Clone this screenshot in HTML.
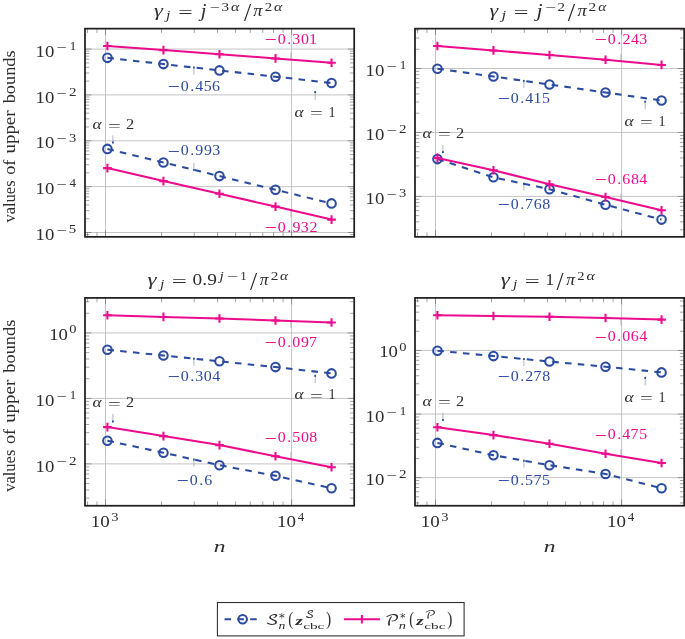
<!DOCTYPE html>
<html><head><meta charset="utf-8"><title>upper bounds</title>
<style>html,body{margin:0;padding:0;background:#fff}svg{display:block}text{font-family:'Liberation Serif','DejaVu Math TeX Gyre',serif;white-space:pre}</style>
</head><body>
<svg width="685" height="639" viewBox="0 0 685 639">
<rect width="685" height="639" fill="#fff"/>
<g id="panel1">
<line x1="105.50" y1="28.65" x2="105.50" y2="236.85" stroke="#bdbdc1" stroke-width="0.9"/>
<line x1="291.60" y1="28.65" x2="291.60" y2="236.85" stroke="#bdbdc1" stroke-width="0.9"/>
<line x1="85.00" y1="232.53" x2="354.20" y2="232.53" stroke="#bdbdc1" stroke-width="0.9"/>
<line x1="85.00" y1="186.66" x2="354.20" y2="186.66" stroke="#bdbdc1" stroke-width="0.9"/>
<line x1="85.00" y1="140.79" x2="354.20" y2="140.79" stroke="#bdbdc1" stroke-width="0.9"/>
<line x1="85.00" y1="94.92" x2="354.20" y2="94.92" stroke="#bdbdc1" stroke-width="0.9"/>
<line x1="85.00" y1="49.05" x2="354.20" y2="49.05" stroke="#bdbdc1" stroke-width="0.9"/>
<line x1="87.47" y1="28.65" x2="87.47" y2="32.95" stroke="#5a5a5a" stroke-width="0.55"/>
<line x1="87.47" y1="236.85" x2="87.47" y2="232.55" stroke="#5a5a5a" stroke-width="0.55"/>
<line x1="96.98" y1="28.65" x2="96.98" y2="32.95" stroke="#5a5a5a" stroke-width="0.55"/>
<line x1="96.98" y1="236.85" x2="96.98" y2="232.55" stroke="#5a5a5a" stroke-width="0.55"/>
<line x1="105.50" y1="28.65" x2="105.50" y2="35.05" stroke="#5a5a5a" stroke-width="0.55"/>
<line x1="105.50" y1="236.85" x2="105.50" y2="230.45" stroke="#5a5a5a" stroke-width="0.55"/>
<line x1="161.52" y1="28.65" x2="161.52" y2="32.95" stroke="#5a5a5a" stroke-width="0.55"/>
<line x1="161.52" y1="236.85" x2="161.52" y2="232.55" stroke="#5a5a5a" stroke-width="0.55"/>
<line x1="194.29" y1="28.65" x2="194.29" y2="32.95" stroke="#5a5a5a" stroke-width="0.55"/>
<line x1="194.29" y1="236.85" x2="194.29" y2="232.55" stroke="#5a5a5a" stroke-width="0.55"/>
<line x1="217.54" y1="28.65" x2="217.54" y2="32.95" stroke="#5a5a5a" stroke-width="0.55"/>
<line x1="217.54" y1="236.85" x2="217.54" y2="232.55" stroke="#5a5a5a" stroke-width="0.55"/>
<line x1="235.58" y1="28.65" x2="235.58" y2="32.95" stroke="#5a5a5a" stroke-width="0.55"/>
<line x1="235.58" y1="236.85" x2="235.58" y2="232.55" stroke="#5a5a5a" stroke-width="0.55"/>
<line x1="250.31" y1="28.65" x2="250.31" y2="32.95" stroke="#5a5a5a" stroke-width="0.55"/>
<line x1="250.31" y1="236.85" x2="250.31" y2="232.55" stroke="#5a5a5a" stroke-width="0.55"/>
<line x1="262.77" y1="28.65" x2="262.77" y2="32.95" stroke="#5a5a5a" stroke-width="0.55"/>
<line x1="262.77" y1="236.85" x2="262.77" y2="232.55" stroke="#5a5a5a" stroke-width="0.55"/>
<line x1="273.57" y1="28.65" x2="273.57" y2="32.95" stroke="#5a5a5a" stroke-width="0.55"/>
<line x1="273.57" y1="236.85" x2="273.57" y2="232.55" stroke="#5a5a5a" stroke-width="0.55"/>
<line x1="283.08" y1="28.65" x2="283.08" y2="32.95" stroke="#5a5a5a" stroke-width="0.55"/>
<line x1="283.08" y1="236.85" x2="283.08" y2="232.55" stroke="#5a5a5a" stroke-width="0.55"/>
<line x1="291.60" y1="28.65" x2="291.60" y2="35.05" stroke="#5a5a5a" stroke-width="0.55"/>
<line x1="291.60" y1="236.85" x2="291.60" y2="230.45" stroke="#5a5a5a" stroke-width="0.55"/>
<line x1="85.00" y1="234.63" x2="89.30" y2="234.63" stroke="#5a5a5a" stroke-width="0.55"/>
<line x1="354.20" y1="234.63" x2="349.90" y2="234.63" stroke="#5a5a5a" stroke-width="0.55"/>
<line x1="85.00" y1="232.53" x2="91.40" y2="232.53" stroke="#5a5a5a" stroke-width="0.55"/>
<line x1="354.20" y1="232.53" x2="347.80" y2="232.53" stroke="#5a5a5a" stroke-width="0.55"/>
<line x1="85.00" y1="218.72" x2="89.30" y2="218.72" stroke="#5a5a5a" stroke-width="0.55"/>
<line x1="354.20" y1="218.72" x2="349.90" y2="218.72" stroke="#5a5a5a" stroke-width="0.55"/>
<line x1="85.00" y1="210.64" x2="89.30" y2="210.64" stroke="#5a5a5a" stroke-width="0.55"/>
<line x1="354.20" y1="210.64" x2="349.90" y2="210.64" stroke="#5a5a5a" stroke-width="0.55"/>
<line x1="85.00" y1="204.91" x2="89.30" y2="204.91" stroke="#5a5a5a" stroke-width="0.55"/>
<line x1="354.20" y1="204.91" x2="349.90" y2="204.91" stroke="#5a5a5a" stroke-width="0.55"/>
<line x1="85.00" y1="200.47" x2="89.30" y2="200.47" stroke="#5a5a5a" stroke-width="0.55"/>
<line x1="354.20" y1="200.47" x2="349.90" y2="200.47" stroke="#5a5a5a" stroke-width="0.55"/>
<line x1="85.00" y1="196.84" x2="89.30" y2="196.84" stroke="#5a5a5a" stroke-width="0.55"/>
<line x1="354.20" y1="196.84" x2="349.90" y2="196.84" stroke="#5a5a5a" stroke-width="0.55"/>
<line x1="85.00" y1="193.77" x2="89.30" y2="193.77" stroke="#5a5a5a" stroke-width="0.55"/>
<line x1="354.20" y1="193.77" x2="349.90" y2="193.77" stroke="#5a5a5a" stroke-width="0.55"/>
<line x1="85.00" y1="191.11" x2="89.30" y2="191.11" stroke="#5a5a5a" stroke-width="0.55"/>
<line x1="354.20" y1="191.11" x2="349.90" y2="191.11" stroke="#5a5a5a" stroke-width="0.55"/>
<line x1="85.00" y1="188.76" x2="89.30" y2="188.76" stroke="#5a5a5a" stroke-width="0.55"/>
<line x1="354.20" y1="188.76" x2="349.90" y2="188.76" stroke="#5a5a5a" stroke-width="0.55"/>
<line x1="85.00" y1="186.66" x2="91.40" y2="186.66" stroke="#5a5a5a" stroke-width="0.55"/>
<line x1="354.20" y1="186.66" x2="347.80" y2="186.66" stroke="#5a5a5a" stroke-width="0.55"/>
<line x1="85.00" y1="172.85" x2="89.30" y2="172.85" stroke="#5a5a5a" stroke-width="0.55"/>
<line x1="354.20" y1="172.85" x2="349.90" y2="172.85" stroke="#5a5a5a" stroke-width="0.55"/>
<line x1="85.00" y1="164.77" x2="89.30" y2="164.77" stroke="#5a5a5a" stroke-width="0.55"/>
<line x1="354.20" y1="164.77" x2="349.90" y2="164.77" stroke="#5a5a5a" stroke-width="0.55"/>
<line x1="85.00" y1="159.04" x2="89.30" y2="159.04" stroke="#5a5a5a" stroke-width="0.55"/>
<line x1="354.20" y1="159.04" x2="349.90" y2="159.04" stroke="#5a5a5a" stroke-width="0.55"/>
<line x1="85.00" y1="154.60" x2="89.30" y2="154.60" stroke="#5a5a5a" stroke-width="0.55"/>
<line x1="354.20" y1="154.60" x2="349.90" y2="154.60" stroke="#5a5a5a" stroke-width="0.55"/>
<line x1="85.00" y1="150.97" x2="89.30" y2="150.97" stroke="#5a5a5a" stroke-width="0.55"/>
<line x1="354.20" y1="150.97" x2="349.90" y2="150.97" stroke="#5a5a5a" stroke-width="0.55"/>
<line x1="85.00" y1="147.90" x2="89.30" y2="147.90" stroke="#5a5a5a" stroke-width="0.55"/>
<line x1="354.20" y1="147.90" x2="349.90" y2="147.90" stroke="#5a5a5a" stroke-width="0.55"/>
<line x1="85.00" y1="145.24" x2="89.30" y2="145.24" stroke="#5a5a5a" stroke-width="0.55"/>
<line x1="354.20" y1="145.24" x2="349.90" y2="145.24" stroke="#5a5a5a" stroke-width="0.55"/>
<line x1="85.00" y1="142.89" x2="89.30" y2="142.89" stroke="#5a5a5a" stroke-width="0.55"/>
<line x1="354.20" y1="142.89" x2="349.90" y2="142.89" stroke="#5a5a5a" stroke-width="0.55"/>
<line x1="85.00" y1="140.79" x2="91.40" y2="140.79" stroke="#5a5a5a" stroke-width="0.55"/>
<line x1="354.20" y1="140.79" x2="347.80" y2="140.79" stroke="#5a5a5a" stroke-width="0.55"/>
<line x1="85.00" y1="126.98" x2="89.30" y2="126.98" stroke="#5a5a5a" stroke-width="0.55"/>
<line x1="354.20" y1="126.98" x2="349.90" y2="126.98" stroke="#5a5a5a" stroke-width="0.55"/>
<line x1="85.00" y1="118.90" x2="89.30" y2="118.90" stroke="#5a5a5a" stroke-width="0.55"/>
<line x1="354.20" y1="118.90" x2="349.90" y2="118.90" stroke="#5a5a5a" stroke-width="0.55"/>
<line x1="85.00" y1="113.17" x2="89.30" y2="113.17" stroke="#5a5a5a" stroke-width="0.55"/>
<line x1="354.20" y1="113.17" x2="349.90" y2="113.17" stroke="#5a5a5a" stroke-width="0.55"/>
<line x1="85.00" y1="108.73" x2="89.30" y2="108.73" stroke="#5a5a5a" stroke-width="0.55"/>
<line x1="354.20" y1="108.73" x2="349.90" y2="108.73" stroke="#5a5a5a" stroke-width="0.55"/>
<line x1="85.00" y1="105.10" x2="89.30" y2="105.10" stroke="#5a5a5a" stroke-width="0.55"/>
<line x1="354.20" y1="105.10" x2="349.90" y2="105.10" stroke="#5a5a5a" stroke-width="0.55"/>
<line x1="85.00" y1="102.03" x2="89.30" y2="102.03" stroke="#5a5a5a" stroke-width="0.55"/>
<line x1="354.20" y1="102.03" x2="349.90" y2="102.03" stroke="#5a5a5a" stroke-width="0.55"/>
<line x1="85.00" y1="99.37" x2="89.30" y2="99.37" stroke="#5a5a5a" stroke-width="0.55"/>
<line x1="354.20" y1="99.37" x2="349.90" y2="99.37" stroke="#5a5a5a" stroke-width="0.55"/>
<line x1="85.00" y1="97.02" x2="89.30" y2="97.02" stroke="#5a5a5a" stroke-width="0.55"/>
<line x1="354.20" y1="97.02" x2="349.90" y2="97.02" stroke="#5a5a5a" stroke-width="0.55"/>
<line x1="85.00" y1="94.92" x2="91.40" y2="94.92" stroke="#5a5a5a" stroke-width="0.55"/>
<line x1="354.20" y1="94.92" x2="347.80" y2="94.92" stroke="#5a5a5a" stroke-width="0.55"/>
<line x1="85.00" y1="81.11" x2="89.30" y2="81.11" stroke="#5a5a5a" stroke-width="0.55"/>
<line x1="354.20" y1="81.11" x2="349.90" y2="81.11" stroke="#5a5a5a" stroke-width="0.55"/>
<line x1="85.00" y1="73.03" x2="89.30" y2="73.03" stroke="#5a5a5a" stroke-width="0.55"/>
<line x1="354.20" y1="73.03" x2="349.90" y2="73.03" stroke="#5a5a5a" stroke-width="0.55"/>
<line x1="85.00" y1="67.30" x2="89.30" y2="67.30" stroke="#5a5a5a" stroke-width="0.55"/>
<line x1="354.20" y1="67.30" x2="349.90" y2="67.30" stroke="#5a5a5a" stroke-width="0.55"/>
<line x1="85.00" y1="62.86" x2="89.30" y2="62.86" stroke="#5a5a5a" stroke-width="0.55"/>
<line x1="354.20" y1="62.86" x2="349.90" y2="62.86" stroke="#5a5a5a" stroke-width="0.55"/>
<line x1="85.00" y1="59.23" x2="89.30" y2="59.23" stroke="#5a5a5a" stroke-width="0.55"/>
<line x1="354.20" y1="59.23" x2="349.90" y2="59.23" stroke="#5a5a5a" stroke-width="0.55"/>
<line x1="85.00" y1="56.16" x2="89.30" y2="56.16" stroke="#5a5a5a" stroke-width="0.55"/>
<line x1="354.20" y1="56.16" x2="349.90" y2="56.16" stroke="#5a5a5a" stroke-width="0.55"/>
<line x1="85.00" y1="53.50" x2="89.30" y2="53.50" stroke="#5a5a5a" stroke-width="0.55"/>
<line x1="354.20" y1="53.50" x2="349.90" y2="53.50" stroke="#5a5a5a" stroke-width="0.55"/>
<line x1="85.00" y1="51.15" x2="89.30" y2="51.15" stroke="#5a5a5a" stroke-width="0.55"/>
<line x1="354.20" y1="51.15" x2="349.90" y2="51.15" stroke="#5a5a5a" stroke-width="0.55"/>
<line x1="85.00" y1="49.05" x2="91.40" y2="49.05" stroke="#5a5a5a" stroke-width="0.55"/>
<line x1="354.20" y1="49.05" x2="347.80" y2="49.05" stroke="#5a5a5a" stroke-width="0.55"/>
<rect x="85.00" y="28.65" width="269.20" height="208.20" fill="none" stroke="#231f20" stroke-width="1.75"/>
<line x1="290.95" y1="59.58" x2="290.95" y2="52.58" stroke="#adadb3" stroke-width="0.9"/>
<line x1="193.90" y1="67.52" x2="193.90" y2="74.52" stroke="#adadb3" stroke-width="0.9"/>
<rect x="193.05" y="66.57" width="1.7" height="1.9" fill="#2a4ba0"/>
<line x1="193.90" y1="169.89" x2="193.90" y2="162.89" stroke="#adadb3" stroke-width="0.9"/>
<rect x="193.05" y="168.94" width="1.7" height="1.9" fill="#2a4ba0"/>
<line x1="290.95" y1="210.18" x2="290.95" y2="217.18" stroke="#adadb3" stroke-width="0.9"/>
<line x1="315.20" y1="92.10" x2="315.20" y2="99.80" stroke="#adadb3" stroke-width="0.9"/>
<rect x="314.30" y="91.10" width="1.8" height="2" fill="#2a4ba0"/>
<line x1="112.90" y1="135.30" x2="112.90" y2="142.50" stroke="#adadb3" stroke-width="0.9"/>
<rect x="112.00" y="141.50" width="1.8" height="2" fill="#2a4ba0"/>
<polyline points="107.42,57.85 163.45,64.10 219.48,70.40 275.51,76.70 331.54,83.00" fill="none" stroke="#2a4ba0" stroke-width="2.05" stroke-dasharray="6.55 6.27"/>
<circle cx="107.42" cy="57.85" r="4.27" fill="none" stroke="#2a4ba0" stroke-width="2.05"/>
<circle cx="163.45" cy="64.10" r="4.27" fill="none" stroke="#2a4ba0" stroke-width="2.05"/>
<circle cx="219.48" cy="70.40" r="4.27" fill="none" stroke="#2a4ba0" stroke-width="2.05"/>
<circle cx="275.51" cy="76.70" r="4.27" fill="none" stroke="#2a4ba0" stroke-width="2.05"/>
<circle cx="331.54" cy="83.00" r="4.27" fill="none" stroke="#2a4ba0" stroke-width="2.05"/>
<polyline points="107.42,46.00 163.45,50.10 219.48,54.20 275.51,58.40 331.54,62.70" fill="none" stroke="#ec0b8d" stroke-width="2.05"/>
<path d="M103.12 46.00H111.72M107.42 41.70V50.30" stroke="#ec0b8d" stroke-width="2.05" fill="none"/>
<path d="M159.15 50.10H167.75M163.45 45.80V54.40" stroke="#ec0b8d" stroke-width="2.05" fill="none"/>
<path d="M215.18 54.20H223.78M219.48 49.90V58.50" stroke="#ec0b8d" stroke-width="2.05" fill="none"/>
<path d="M271.21 58.40H279.81M275.51 54.10V62.70" stroke="#ec0b8d" stroke-width="2.05" fill="none"/>
<path d="M327.24 62.70H335.84M331.54 58.40V67.00" stroke="#ec0b8d" stroke-width="2.05" fill="none"/>
<polyline points="107.42,148.90 163.45,162.50 219.48,176.10 275.51,189.80 331.54,203.40" fill="none" stroke="#2a4ba0" stroke-width="2.05" stroke-dasharray="6.55 6.27"/>
<circle cx="107.42" cy="148.90" r="4.27" fill="none" stroke="#2a4ba0" stroke-width="2.05"/>
<circle cx="163.45" cy="162.50" r="4.27" fill="none" stroke="#2a4ba0" stroke-width="2.05"/>
<circle cx="219.48" cy="176.10" r="4.27" fill="none" stroke="#2a4ba0" stroke-width="2.05"/>
<circle cx="275.51" cy="189.80" r="4.27" fill="none" stroke="#2a4ba0" stroke-width="2.05"/>
<circle cx="331.54" cy="203.40" r="4.27" fill="none" stroke="#2a4ba0" stroke-width="2.05"/>
<polyline points="107.42,168.10 163.45,181.10 219.48,193.80 275.51,206.60 331.54,219.60" fill="none" stroke="#ec0b8d" stroke-width="2.05"/>
<path d="M103.12 168.10H111.72M107.42 163.80V172.40" stroke="#ec0b8d" stroke-width="2.05" fill="none"/>
<path d="M159.15 181.10H167.75M163.45 176.80V185.40" stroke="#ec0b8d" stroke-width="2.05" fill="none"/>
<path d="M215.18 193.80H223.78M219.48 189.50V198.10" stroke="#ec0b8d" stroke-width="2.05" fill="none"/>
<path d="M271.21 206.60H279.81M275.51 202.30V210.90" stroke="#ec0b8d" stroke-width="2.05" fill="none"/>
<path d="M327.24 219.60H335.84M331.54 215.30V223.90" stroke="#ec0b8d" stroke-width="2.05" fill="none"/>
</g>
<g id="panel2">
<line x1="435.50" y1="28.65" x2="435.50" y2="236.85" stroke="#bdbdc1" stroke-width="0.9"/>
<line x1="621.60" y1="28.65" x2="621.60" y2="236.85" stroke="#bdbdc1" stroke-width="0.9"/>
<line x1="415.00" y1="196.40" x2="684.20" y2="196.40" stroke="#bdbdc1" stroke-width="0.9"/>
<line x1="415.00" y1="132.45" x2="684.20" y2="132.45" stroke="#bdbdc1" stroke-width="0.9"/>
<line x1="415.00" y1="68.50" x2="684.20" y2="68.50" stroke="#bdbdc1" stroke-width="0.9"/>
<line x1="417.47" y1="28.65" x2="417.47" y2="32.95" stroke="#5a5a5a" stroke-width="0.55"/>
<line x1="417.47" y1="236.85" x2="417.47" y2="232.55" stroke="#5a5a5a" stroke-width="0.55"/>
<line x1="426.98" y1="28.65" x2="426.98" y2="32.95" stroke="#5a5a5a" stroke-width="0.55"/>
<line x1="426.98" y1="236.85" x2="426.98" y2="232.55" stroke="#5a5a5a" stroke-width="0.55"/>
<line x1="435.50" y1="28.65" x2="435.50" y2="35.05" stroke="#5a5a5a" stroke-width="0.55"/>
<line x1="435.50" y1="236.85" x2="435.50" y2="230.45" stroke="#5a5a5a" stroke-width="0.55"/>
<line x1="491.52" y1="28.65" x2="491.52" y2="32.95" stroke="#5a5a5a" stroke-width="0.55"/>
<line x1="491.52" y1="236.85" x2="491.52" y2="232.55" stroke="#5a5a5a" stroke-width="0.55"/>
<line x1="524.29" y1="28.65" x2="524.29" y2="32.95" stroke="#5a5a5a" stroke-width="0.55"/>
<line x1="524.29" y1="236.85" x2="524.29" y2="232.55" stroke="#5a5a5a" stroke-width="0.55"/>
<line x1="547.54" y1="28.65" x2="547.54" y2="32.95" stroke="#5a5a5a" stroke-width="0.55"/>
<line x1="547.54" y1="236.85" x2="547.54" y2="232.55" stroke="#5a5a5a" stroke-width="0.55"/>
<line x1="565.58" y1="28.65" x2="565.58" y2="32.95" stroke="#5a5a5a" stroke-width="0.55"/>
<line x1="565.58" y1="236.85" x2="565.58" y2="232.55" stroke="#5a5a5a" stroke-width="0.55"/>
<line x1="580.31" y1="28.65" x2="580.31" y2="32.95" stroke="#5a5a5a" stroke-width="0.55"/>
<line x1="580.31" y1="236.85" x2="580.31" y2="232.55" stroke="#5a5a5a" stroke-width="0.55"/>
<line x1="592.77" y1="28.65" x2="592.77" y2="32.95" stroke="#5a5a5a" stroke-width="0.55"/>
<line x1="592.77" y1="236.85" x2="592.77" y2="232.55" stroke="#5a5a5a" stroke-width="0.55"/>
<line x1="603.57" y1="28.65" x2="603.57" y2="32.95" stroke="#5a5a5a" stroke-width="0.55"/>
<line x1="603.57" y1="236.85" x2="603.57" y2="232.55" stroke="#5a5a5a" stroke-width="0.55"/>
<line x1="613.08" y1="28.65" x2="613.08" y2="32.95" stroke="#5a5a5a" stroke-width="0.55"/>
<line x1="613.08" y1="236.85" x2="613.08" y2="232.55" stroke="#5a5a5a" stroke-width="0.55"/>
<line x1="621.60" y1="28.65" x2="621.60" y2="35.05" stroke="#5a5a5a" stroke-width="0.55"/>
<line x1="621.60" y1="236.85" x2="621.60" y2="230.45" stroke="#5a5a5a" stroke-width="0.55"/>
<line x1="415.00" y1="229.84" x2="419.30" y2="229.84" stroke="#5a5a5a" stroke-width="0.55"/>
<line x1="684.20" y1="229.84" x2="679.90" y2="229.84" stroke="#5a5a5a" stroke-width="0.55"/>
<line x1="415.00" y1="221.85" x2="419.30" y2="221.85" stroke="#5a5a5a" stroke-width="0.55"/>
<line x1="684.20" y1="221.85" x2="679.90" y2="221.85" stroke="#5a5a5a" stroke-width="0.55"/>
<line x1="415.00" y1="215.65" x2="419.30" y2="215.65" stroke="#5a5a5a" stroke-width="0.55"/>
<line x1="684.20" y1="215.65" x2="679.90" y2="215.65" stroke="#5a5a5a" stroke-width="0.55"/>
<line x1="415.00" y1="210.59" x2="419.30" y2="210.59" stroke="#5a5a5a" stroke-width="0.55"/>
<line x1="684.20" y1="210.59" x2="679.90" y2="210.59" stroke="#5a5a5a" stroke-width="0.55"/>
<line x1="415.00" y1="206.31" x2="419.30" y2="206.31" stroke="#5a5a5a" stroke-width="0.55"/>
<line x1="684.20" y1="206.31" x2="679.90" y2="206.31" stroke="#5a5a5a" stroke-width="0.55"/>
<line x1="415.00" y1="202.60" x2="419.30" y2="202.60" stroke="#5a5a5a" stroke-width="0.55"/>
<line x1="684.20" y1="202.60" x2="679.90" y2="202.60" stroke="#5a5a5a" stroke-width="0.55"/>
<line x1="415.00" y1="199.33" x2="419.30" y2="199.33" stroke="#5a5a5a" stroke-width="0.55"/>
<line x1="684.20" y1="199.33" x2="679.90" y2="199.33" stroke="#5a5a5a" stroke-width="0.55"/>
<line x1="415.00" y1="196.40" x2="421.40" y2="196.40" stroke="#5a5a5a" stroke-width="0.55"/>
<line x1="684.20" y1="196.40" x2="677.80" y2="196.40" stroke="#5a5a5a" stroke-width="0.55"/>
<line x1="415.00" y1="177.15" x2="419.30" y2="177.15" stroke="#5a5a5a" stroke-width="0.55"/>
<line x1="684.20" y1="177.15" x2="679.90" y2="177.15" stroke="#5a5a5a" stroke-width="0.55"/>
<line x1="415.00" y1="165.89" x2="419.30" y2="165.89" stroke="#5a5a5a" stroke-width="0.55"/>
<line x1="684.20" y1="165.89" x2="679.90" y2="165.89" stroke="#5a5a5a" stroke-width="0.55"/>
<line x1="415.00" y1="157.90" x2="419.30" y2="157.90" stroke="#5a5a5a" stroke-width="0.55"/>
<line x1="684.20" y1="157.90" x2="679.90" y2="157.90" stroke="#5a5a5a" stroke-width="0.55"/>
<line x1="415.00" y1="151.70" x2="419.30" y2="151.70" stroke="#5a5a5a" stroke-width="0.55"/>
<line x1="684.20" y1="151.70" x2="679.90" y2="151.70" stroke="#5a5a5a" stroke-width="0.55"/>
<line x1="415.00" y1="146.64" x2="419.30" y2="146.64" stroke="#5a5a5a" stroke-width="0.55"/>
<line x1="684.20" y1="146.64" x2="679.90" y2="146.64" stroke="#5a5a5a" stroke-width="0.55"/>
<line x1="415.00" y1="142.36" x2="419.30" y2="142.36" stroke="#5a5a5a" stroke-width="0.55"/>
<line x1="684.20" y1="142.36" x2="679.90" y2="142.36" stroke="#5a5a5a" stroke-width="0.55"/>
<line x1="415.00" y1="138.65" x2="419.30" y2="138.65" stroke="#5a5a5a" stroke-width="0.55"/>
<line x1="684.20" y1="138.65" x2="679.90" y2="138.65" stroke="#5a5a5a" stroke-width="0.55"/>
<line x1="415.00" y1="135.38" x2="419.30" y2="135.38" stroke="#5a5a5a" stroke-width="0.55"/>
<line x1="684.20" y1="135.38" x2="679.90" y2="135.38" stroke="#5a5a5a" stroke-width="0.55"/>
<line x1="415.00" y1="132.45" x2="421.40" y2="132.45" stroke="#5a5a5a" stroke-width="0.55"/>
<line x1="684.20" y1="132.45" x2="677.80" y2="132.45" stroke="#5a5a5a" stroke-width="0.55"/>
<line x1="415.00" y1="113.20" x2="419.30" y2="113.20" stroke="#5a5a5a" stroke-width="0.55"/>
<line x1="684.20" y1="113.20" x2="679.90" y2="113.20" stroke="#5a5a5a" stroke-width="0.55"/>
<line x1="415.00" y1="101.94" x2="419.30" y2="101.94" stroke="#5a5a5a" stroke-width="0.55"/>
<line x1="684.20" y1="101.94" x2="679.90" y2="101.94" stroke="#5a5a5a" stroke-width="0.55"/>
<line x1="415.00" y1="93.95" x2="419.30" y2="93.95" stroke="#5a5a5a" stroke-width="0.55"/>
<line x1="684.20" y1="93.95" x2="679.90" y2="93.95" stroke="#5a5a5a" stroke-width="0.55"/>
<line x1="415.00" y1="87.75" x2="419.30" y2="87.75" stroke="#5a5a5a" stroke-width="0.55"/>
<line x1="684.20" y1="87.75" x2="679.90" y2="87.75" stroke="#5a5a5a" stroke-width="0.55"/>
<line x1="415.00" y1="82.69" x2="419.30" y2="82.69" stroke="#5a5a5a" stroke-width="0.55"/>
<line x1="684.20" y1="82.69" x2="679.90" y2="82.69" stroke="#5a5a5a" stroke-width="0.55"/>
<line x1="415.00" y1="78.41" x2="419.30" y2="78.41" stroke="#5a5a5a" stroke-width="0.55"/>
<line x1="684.20" y1="78.41" x2="679.90" y2="78.41" stroke="#5a5a5a" stroke-width="0.55"/>
<line x1="415.00" y1="74.70" x2="419.30" y2="74.70" stroke="#5a5a5a" stroke-width="0.55"/>
<line x1="684.20" y1="74.70" x2="679.90" y2="74.70" stroke="#5a5a5a" stroke-width="0.55"/>
<line x1="415.00" y1="71.43" x2="419.30" y2="71.43" stroke="#5a5a5a" stroke-width="0.55"/>
<line x1="684.20" y1="71.43" x2="679.90" y2="71.43" stroke="#5a5a5a" stroke-width="0.55"/>
<line x1="415.00" y1="68.50" x2="421.40" y2="68.50" stroke="#5a5a5a" stroke-width="0.55"/>
<line x1="684.20" y1="68.50" x2="677.80" y2="68.50" stroke="#5a5a5a" stroke-width="0.55"/>
<line x1="415.00" y1="49.25" x2="419.30" y2="49.25" stroke="#5a5a5a" stroke-width="0.55"/>
<line x1="684.20" y1="49.25" x2="679.90" y2="49.25" stroke="#5a5a5a" stroke-width="0.55"/>
<line x1="415.00" y1="37.99" x2="419.30" y2="37.99" stroke="#5a5a5a" stroke-width="0.55"/>
<line x1="684.20" y1="37.99" x2="679.90" y2="37.99" stroke="#5a5a5a" stroke-width="0.55"/>
<line x1="415.00" y1="30.00" x2="419.30" y2="30.00" stroke="#5a5a5a" stroke-width="0.55"/>
<line x1="684.20" y1="30.00" x2="679.90" y2="30.00" stroke="#5a5a5a" stroke-width="0.55"/>
<rect x="415.00" y="28.65" width="269.20" height="208.20" fill="none" stroke="#231f20" stroke-width="1.75"/>
<line x1="620.95" y1="61.21" x2="620.95" y2="54.21" stroke="#adadb3" stroke-width="0.9"/>
<line x1="523.90" y1="80.85" x2="523.90" y2="87.85" stroke="#adadb3" stroke-width="0.9"/>
<rect x="523.05" y="79.90" width="1.7" height="1.9" fill="#2a4ba0"/>
<line x1="620.95" y1="200.64" x2="620.95" y2="193.64" stroke="#adadb3" stroke-width="0.9"/>
<line x1="523.90" y1="183.77" x2="523.90" y2="190.77" stroke="#adadb3" stroke-width="0.9"/>
<rect x="523.05" y="182.82" width="1.7" height="1.9" fill="#2a4ba0"/>
<line x1="645.20" y1="101.70" x2="645.20" y2="109.30" stroke="#adadb3" stroke-width="0.9"/>
<rect x="644.30" y="100.70" width="1.8" height="2" fill="#2a4ba0"/>
<line x1="442.90" y1="145.00" x2="442.90" y2="152.10" stroke="#adadb3" stroke-width="0.9"/>
<rect x="442.00" y="151.10" width="1.8" height="2" fill="#2a4ba0"/>
<polyline points="437.42,68.70 493.45,76.50 549.48,84.50 605.51,92.50 661.54,100.50" fill="none" stroke="#2a4ba0" stroke-width="2.05" stroke-dasharray="6.55 6.27"/>
<circle cx="437.42" cy="68.70" r="4.27" fill="none" stroke="#2a4ba0" stroke-width="2.05"/>
<circle cx="493.45" cy="76.50" r="4.27" fill="none" stroke="#2a4ba0" stroke-width="2.05"/>
<circle cx="549.48" cy="84.50" r="4.27" fill="none" stroke="#2a4ba0" stroke-width="2.05"/>
<circle cx="605.51" cy="92.50" r="4.27" fill="none" stroke="#2a4ba0" stroke-width="2.05"/>
<circle cx="661.54" cy="100.50" r="4.27" fill="none" stroke="#2a4ba0" stroke-width="2.05"/>
<polyline points="437.42,46.00 493.45,50.40 549.48,55.05 605.51,59.80 661.54,64.90" fill="none" stroke="#ec0b8d" stroke-width="2.05"/>
<path d="M433.12 46.00H441.72M437.42 41.70V50.30" stroke="#ec0b8d" stroke-width="2.05" fill="none"/>
<path d="M489.15 50.40H497.75M493.45 46.10V54.70" stroke="#ec0b8d" stroke-width="2.05" fill="none"/>
<path d="M545.18 55.05H553.78M549.48 50.75V59.35" stroke="#ec0b8d" stroke-width="2.05" fill="none"/>
<path d="M601.21 59.80H609.81M605.51 55.50V64.10" stroke="#ec0b8d" stroke-width="2.05" fill="none"/>
<path d="M657.24 64.90H665.84M661.54 60.60V69.20" stroke="#ec0b8d" stroke-width="2.05" fill="none"/>
<polyline points="437.42,159.10 493.45,177.30 549.48,189.20 605.51,204.80 661.54,219.60" fill="none" stroke="#2a4ba0" stroke-width="2.05" stroke-dasharray="6.55 6.27"/>
<circle cx="437.42" cy="159.10" r="4.27" fill="none" stroke="#2a4ba0" stroke-width="2.05"/>
<circle cx="493.45" cy="177.30" r="4.27" fill="none" stroke="#2a4ba0" stroke-width="2.05"/>
<circle cx="549.48" cy="189.20" r="4.27" fill="none" stroke="#2a4ba0" stroke-width="2.05"/>
<circle cx="605.51" cy="204.80" r="4.27" fill="none" stroke="#2a4ba0" stroke-width="2.05"/>
<circle cx="661.54" cy="219.60" r="4.27" fill="none" stroke="#2a4ba0" stroke-width="2.05"/>
<polyline points="437.42,157.90 493.45,170.20 549.48,184.20 605.51,197.00 661.54,210.20" fill="none" stroke="#ec0b8d" stroke-width="2.05"/>
<path d="M433.12 157.90H441.72M437.42 153.60V162.20" stroke="#ec0b8d" stroke-width="2.05" fill="none"/>
<path d="M489.15 170.20H497.75M493.45 165.90V174.50" stroke="#ec0b8d" stroke-width="2.05" fill="none"/>
<path d="M545.18 184.20H553.78M549.48 179.90V188.50" stroke="#ec0b8d" stroke-width="2.05" fill="none"/>
<path d="M601.21 197.00H609.81M605.51 192.70V201.30" stroke="#ec0b8d" stroke-width="2.05" fill="none"/>
<path d="M657.24 210.20H665.84M661.54 205.90V214.50" stroke="#ec0b8d" stroke-width="2.05" fill="none"/>
</g>
<g id="panel3">
<line x1="105.50" y1="297.90" x2="105.50" y2="505.75" stroke="#bdbdc1" stroke-width="0.9"/>
<line x1="291.60" y1="297.90" x2="291.60" y2="505.75" stroke="#bdbdc1" stroke-width="0.9"/>
<line x1="85.00" y1="463.89" x2="354.20" y2="463.89" stroke="#bdbdc1" stroke-width="0.9"/>
<line x1="85.00" y1="398.42" x2="354.20" y2="398.42" stroke="#bdbdc1" stroke-width="0.9"/>
<line x1="85.00" y1="332.95" x2="354.20" y2="332.95" stroke="#bdbdc1" stroke-width="0.9"/>
<line x1="87.47" y1="297.90" x2="87.47" y2="302.20" stroke="#5a5a5a" stroke-width="0.55"/>
<line x1="87.47" y1="505.75" x2="87.47" y2="501.45" stroke="#5a5a5a" stroke-width="0.55"/>
<line x1="96.98" y1="297.90" x2="96.98" y2="302.20" stroke="#5a5a5a" stroke-width="0.55"/>
<line x1="96.98" y1="505.75" x2="96.98" y2="501.45" stroke="#5a5a5a" stroke-width="0.55"/>
<line x1="105.50" y1="297.90" x2="105.50" y2="304.30" stroke="#5a5a5a" stroke-width="0.55"/>
<line x1="105.50" y1="505.75" x2="105.50" y2="499.35" stroke="#5a5a5a" stroke-width="0.55"/>
<line x1="161.52" y1="297.90" x2="161.52" y2="302.20" stroke="#5a5a5a" stroke-width="0.55"/>
<line x1="161.52" y1="505.75" x2="161.52" y2="501.45" stroke="#5a5a5a" stroke-width="0.55"/>
<line x1="194.29" y1="297.90" x2="194.29" y2="302.20" stroke="#5a5a5a" stroke-width="0.55"/>
<line x1="194.29" y1="505.75" x2="194.29" y2="501.45" stroke="#5a5a5a" stroke-width="0.55"/>
<line x1="217.54" y1="297.90" x2="217.54" y2="302.20" stroke="#5a5a5a" stroke-width="0.55"/>
<line x1="217.54" y1="505.75" x2="217.54" y2="501.45" stroke="#5a5a5a" stroke-width="0.55"/>
<line x1="235.58" y1="297.90" x2="235.58" y2="302.20" stroke="#5a5a5a" stroke-width="0.55"/>
<line x1="235.58" y1="505.75" x2="235.58" y2="501.45" stroke="#5a5a5a" stroke-width="0.55"/>
<line x1="250.31" y1="297.90" x2="250.31" y2="302.20" stroke="#5a5a5a" stroke-width="0.55"/>
<line x1="250.31" y1="505.75" x2="250.31" y2="501.45" stroke="#5a5a5a" stroke-width="0.55"/>
<line x1="262.77" y1="297.90" x2="262.77" y2="302.20" stroke="#5a5a5a" stroke-width="0.55"/>
<line x1="262.77" y1="505.75" x2="262.77" y2="501.45" stroke="#5a5a5a" stroke-width="0.55"/>
<line x1="273.57" y1="297.90" x2="273.57" y2="302.20" stroke="#5a5a5a" stroke-width="0.55"/>
<line x1="273.57" y1="505.75" x2="273.57" y2="501.45" stroke="#5a5a5a" stroke-width="0.55"/>
<line x1="283.08" y1="297.90" x2="283.08" y2="302.20" stroke="#5a5a5a" stroke-width="0.55"/>
<line x1="283.08" y1="505.75" x2="283.08" y2="501.45" stroke="#5a5a5a" stroke-width="0.55"/>
<line x1="291.60" y1="297.90" x2="291.60" y2="304.30" stroke="#5a5a5a" stroke-width="0.55"/>
<line x1="291.60" y1="505.75" x2="291.60" y2="499.35" stroke="#5a5a5a" stroke-width="0.55"/>
<line x1="85.00" y1="498.12" x2="89.30" y2="498.12" stroke="#5a5a5a" stroke-width="0.55"/>
<line x1="354.20" y1="498.12" x2="349.90" y2="498.12" stroke="#5a5a5a" stroke-width="0.55"/>
<line x1="85.00" y1="489.94" x2="89.30" y2="489.94" stroke="#5a5a5a" stroke-width="0.55"/>
<line x1="354.20" y1="489.94" x2="349.90" y2="489.94" stroke="#5a5a5a" stroke-width="0.55"/>
<line x1="85.00" y1="483.60" x2="89.30" y2="483.60" stroke="#5a5a5a" stroke-width="0.55"/>
<line x1="354.20" y1="483.60" x2="349.90" y2="483.60" stroke="#5a5a5a" stroke-width="0.55"/>
<line x1="85.00" y1="478.41" x2="89.30" y2="478.41" stroke="#5a5a5a" stroke-width="0.55"/>
<line x1="354.20" y1="478.41" x2="349.90" y2="478.41" stroke="#5a5a5a" stroke-width="0.55"/>
<line x1="85.00" y1="474.03" x2="89.30" y2="474.03" stroke="#5a5a5a" stroke-width="0.55"/>
<line x1="354.20" y1="474.03" x2="349.90" y2="474.03" stroke="#5a5a5a" stroke-width="0.55"/>
<line x1="85.00" y1="470.23" x2="89.30" y2="470.23" stroke="#5a5a5a" stroke-width="0.55"/>
<line x1="354.20" y1="470.23" x2="349.90" y2="470.23" stroke="#5a5a5a" stroke-width="0.55"/>
<line x1="85.00" y1="466.89" x2="89.30" y2="466.89" stroke="#5a5a5a" stroke-width="0.55"/>
<line x1="354.20" y1="466.89" x2="349.90" y2="466.89" stroke="#5a5a5a" stroke-width="0.55"/>
<line x1="85.00" y1="463.89" x2="91.40" y2="463.89" stroke="#5a5a5a" stroke-width="0.55"/>
<line x1="354.20" y1="463.89" x2="347.80" y2="463.89" stroke="#5a5a5a" stroke-width="0.55"/>
<line x1="85.00" y1="444.18" x2="89.30" y2="444.18" stroke="#5a5a5a" stroke-width="0.55"/>
<line x1="354.20" y1="444.18" x2="349.90" y2="444.18" stroke="#5a5a5a" stroke-width="0.55"/>
<line x1="85.00" y1="432.65" x2="89.30" y2="432.65" stroke="#5a5a5a" stroke-width="0.55"/>
<line x1="354.20" y1="432.65" x2="349.90" y2="432.65" stroke="#5a5a5a" stroke-width="0.55"/>
<line x1="85.00" y1="424.47" x2="89.30" y2="424.47" stroke="#5a5a5a" stroke-width="0.55"/>
<line x1="354.20" y1="424.47" x2="349.90" y2="424.47" stroke="#5a5a5a" stroke-width="0.55"/>
<line x1="85.00" y1="418.13" x2="89.30" y2="418.13" stroke="#5a5a5a" stroke-width="0.55"/>
<line x1="354.20" y1="418.13" x2="349.90" y2="418.13" stroke="#5a5a5a" stroke-width="0.55"/>
<line x1="85.00" y1="412.94" x2="89.30" y2="412.94" stroke="#5a5a5a" stroke-width="0.55"/>
<line x1="354.20" y1="412.94" x2="349.90" y2="412.94" stroke="#5a5a5a" stroke-width="0.55"/>
<line x1="85.00" y1="408.56" x2="89.30" y2="408.56" stroke="#5a5a5a" stroke-width="0.55"/>
<line x1="354.20" y1="408.56" x2="349.90" y2="408.56" stroke="#5a5a5a" stroke-width="0.55"/>
<line x1="85.00" y1="404.76" x2="89.30" y2="404.76" stroke="#5a5a5a" stroke-width="0.55"/>
<line x1="354.20" y1="404.76" x2="349.90" y2="404.76" stroke="#5a5a5a" stroke-width="0.55"/>
<line x1="85.00" y1="401.42" x2="89.30" y2="401.42" stroke="#5a5a5a" stroke-width="0.55"/>
<line x1="354.20" y1="401.42" x2="349.90" y2="401.42" stroke="#5a5a5a" stroke-width="0.55"/>
<line x1="85.00" y1="398.42" x2="91.40" y2="398.42" stroke="#5a5a5a" stroke-width="0.55"/>
<line x1="354.20" y1="398.42" x2="347.80" y2="398.42" stroke="#5a5a5a" stroke-width="0.55"/>
<line x1="85.00" y1="378.71" x2="89.30" y2="378.71" stroke="#5a5a5a" stroke-width="0.55"/>
<line x1="354.20" y1="378.71" x2="349.90" y2="378.71" stroke="#5a5a5a" stroke-width="0.55"/>
<line x1="85.00" y1="367.18" x2="89.30" y2="367.18" stroke="#5a5a5a" stroke-width="0.55"/>
<line x1="354.20" y1="367.18" x2="349.90" y2="367.18" stroke="#5a5a5a" stroke-width="0.55"/>
<line x1="85.00" y1="359.00" x2="89.30" y2="359.00" stroke="#5a5a5a" stroke-width="0.55"/>
<line x1="354.20" y1="359.00" x2="349.90" y2="359.00" stroke="#5a5a5a" stroke-width="0.55"/>
<line x1="85.00" y1="352.66" x2="89.30" y2="352.66" stroke="#5a5a5a" stroke-width="0.55"/>
<line x1="354.20" y1="352.66" x2="349.90" y2="352.66" stroke="#5a5a5a" stroke-width="0.55"/>
<line x1="85.00" y1="347.47" x2="89.30" y2="347.47" stroke="#5a5a5a" stroke-width="0.55"/>
<line x1="354.20" y1="347.47" x2="349.90" y2="347.47" stroke="#5a5a5a" stroke-width="0.55"/>
<line x1="85.00" y1="343.09" x2="89.30" y2="343.09" stroke="#5a5a5a" stroke-width="0.55"/>
<line x1="354.20" y1="343.09" x2="349.90" y2="343.09" stroke="#5a5a5a" stroke-width="0.55"/>
<line x1="85.00" y1="339.29" x2="89.30" y2="339.29" stroke="#5a5a5a" stroke-width="0.55"/>
<line x1="354.20" y1="339.29" x2="349.90" y2="339.29" stroke="#5a5a5a" stroke-width="0.55"/>
<line x1="85.00" y1="335.95" x2="89.30" y2="335.95" stroke="#5a5a5a" stroke-width="0.55"/>
<line x1="354.20" y1="335.95" x2="349.90" y2="335.95" stroke="#5a5a5a" stroke-width="0.55"/>
<line x1="85.00" y1="332.95" x2="91.40" y2="332.95" stroke="#5a5a5a" stroke-width="0.55"/>
<line x1="354.20" y1="332.95" x2="347.80" y2="332.95" stroke="#5a5a5a" stroke-width="0.55"/>
<line x1="85.00" y1="313.24" x2="89.30" y2="313.24" stroke="#5a5a5a" stroke-width="0.55"/>
<line x1="354.20" y1="313.24" x2="349.90" y2="313.24" stroke="#5a5a5a" stroke-width="0.55"/>
<line x1="85.00" y1="301.71" x2="89.30" y2="301.71" stroke="#5a5a5a" stroke-width="0.55"/>
<line x1="354.20" y1="301.71" x2="349.90" y2="301.71" stroke="#5a5a5a" stroke-width="0.55"/>
<rect x="85.00" y="297.90" width="269.20" height="207.85" fill="none" stroke="#231f20" stroke-width="1.75"/>
<line x1="290.95" y1="321.05" x2="290.95" y2="328.05" stroke="#adadb3" stroke-width="0.9"/>
<line x1="193.90" y1="358.65" x2="193.90" y2="365.65" stroke="#adadb3" stroke-width="0.9"/>
<rect x="193.05" y="357.70" width="1.7" height="1.9" fill="#2a4ba0"/>
<line x1="290.95" y1="459.23" x2="290.95" y2="452.23" stroke="#adadb3" stroke-width="0.9"/>
<line x1="193.90" y1="459.49" x2="193.90" y2="466.49" stroke="#adadb3" stroke-width="0.9"/>
<rect x="193.05" y="458.54" width="1.7" height="1.9" fill="#2a4ba0"/>
<line x1="315.20" y1="375.80" x2="315.20" y2="382.90" stroke="#adadb3" stroke-width="0.9"/>
<rect x="314.30" y="374.80" width="1.8" height="2" fill="#2a4ba0"/>
<line x1="112.90" y1="413.80" x2="112.90" y2="421.50" stroke="#adadb3" stroke-width="0.9"/>
<rect x="112.00" y="420.50" width="1.8" height="2" fill="#2a4ba0"/>
<polyline points="107.42,349.70 163.45,355.50 219.48,361.30 275.51,367.10 331.54,373.40" fill="none" stroke="#2a4ba0" stroke-width="2.05" stroke-dasharray="6.55 6.27"/>
<circle cx="107.42" cy="349.70" r="4.27" fill="none" stroke="#2a4ba0" stroke-width="2.05"/>
<circle cx="163.45" cy="355.50" r="4.27" fill="none" stroke="#2a4ba0" stroke-width="2.05"/>
<circle cx="219.48" cy="361.30" r="4.27" fill="none" stroke="#2a4ba0" stroke-width="2.05"/>
<circle cx="275.51" cy="367.10" r="4.27" fill="none" stroke="#2a4ba0" stroke-width="2.05"/>
<circle cx="331.54" cy="373.40" r="4.27" fill="none" stroke="#2a4ba0" stroke-width="2.05"/>
<polyline points="107.42,315.20 163.45,316.90 219.48,318.50 275.51,320.50 331.54,322.50" fill="none" stroke="#ec0b8d" stroke-width="2.05"/>
<path d="M103.12 315.20H111.72M107.42 310.90V319.50" stroke="#ec0b8d" stroke-width="2.05" fill="none"/>
<path d="M159.15 316.90H167.75M163.45 312.60V321.20" stroke="#ec0b8d" stroke-width="2.05" fill="none"/>
<path d="M215.18 318.50H223.78M219.48 314.20V322.80" stroke="#ec0b8d" stroke-width="2.05" fill="none"/>
<path d="M271.21 320.50H279.81M275.51 316.20V324.80" stroke="#ec0b8d" stroke-width="2.05" fill="none"/>
<path d="M327.24 322.50H335.84M331.54 318.20V326.80" stroke="#ec0b8d" stroke-width="2.05" fill="none"/>
<polyline points="107.42,440.70 163.45,452.70 219.48,465.20 275.51,475.80 331.54,488.20" fill="none" stroke="#2a4ba0" stroke-width="2.05" stroke-dasharray="6.55 6.27"/>
<circle cx="107.42" cy="440.70" r="4.27" fill="none" stroke="#2a4ba0" stroke-width="2.05"/>
<circle cx="163.45" cy="452.70" r="4.27" fill="none" stroke="#2a4ba0" stroke-width="2.05"/>
<circle cx="219.48" cy="465.20" r="4.27" fill="none" stroke="#2a4ba0" stroke-width="2.05"/>
<circle cx="275.51" cy="475.80" r="4.27" fill="none" stroke="#2a4ba0" stroke-width="2.05"/>
<circle cx="331.54" cy="488.20" r="4.27" fill="none" stroke="#2a4ba0" stroke-width="2.05"/>
<polyline points="107.42,427.10 163.45,436.10 219.48,445.10 275.51,456.20 331.54,467.20" fill="none" stroke="#ec0b8d" stroke-width="2.05"/>
<path d="M103.12 427.10H111.72M107.42 422.80V431.40" stroke="#ec0b8d" stroke-width="2.05" fill="none"/>
<path d="M159.15 436.10H167.75M163.45 431.80V440.40" stroke="#ec0b8d" stroke-width="2.05" fill="none"/>
<path d="M215.18 445.10H223.78M219.48 440.80V449.40" stroke="#ec0b8d" stroke-width="2.05" fill="none"/>
<path d="M271.21 456.20H279.81M275.51 451.90V460.50" stroke="#ec0b8d" stroke-width="2.05" fill="none"/>
<path d="M327.24 467.20H335.84M331.54 462.90V471.50" stroke="#ec0b8d" stroke-width="2.05" fill="none"/>
</g>
<g id="panel4">
<line x1="435.50" y1="297.90" x2="435.50" y2="505.75" stroke="#bdbdc1" stroke-width="0.9"/>
<line x1="621.60" y1="297.90" x2="621.60" y2="505.75" stroke="#bdbdc1" stroke-width="0.9"/>
<line x1="415.00" y1="477.65" x2="684.20" y2="477.65" stroke="#bdbdc1" stroke-width="0.9"/>
<line x1="415.00" y1="414.05" x2="684.20" y2="414.05" stroke="#bdbdc1" stroke-width="0.9"/>
<line x1="415.00" y1="350.45" x2="684.20" y2="350.45" stroke="#bdbdc1" stroke-width="0.9"/>
<line x1="417.47" y1="297.90" x2="417.47" y2="302.20" stroke="#5a5a5a" stroke-width="0.55"/>
<line x1="417.47" y1="505.75" x2="417.47" y2="501.45" stroke="#5a5a5a" stroke-width="0.55"/>
<line x1="426.98" y1="297.90" x2="426.98" y2="302.20" stroke="#5a5a5a" stroke-width="0.55"/>
<line x1="426.98" y1="505.75" x2="426.98" y2="501.45" stroke="#5a5a5a" stroke-width="0.55"/>
<line x1="435.50" y1="297.90" x2="435.50" y2="304.30" stroke="#5a5a5a" stroke-width="0.55"/>
<line x1="435.50" y1="505.75" x2="435.50" y2="499.35" stroke="#5a5a5a" stroke-width="0.55"/>
<line x1="491.52" y1="297.90" x2="491.52" y2="302.20" stroke="#5a5a5a" stroke-width="0.55"/>
<line x1="491.52" y1="505.75" x2="491.52" y2="501.45" stroke="#5a5a5a" stroke-width="0.55"/>
<line x1="524.29" y1="297.90" x2="524.29" y2="302.20" stroke="#5a5a5a" stroke-width="0.55"/>
<line x1="524.29" y1="505.75" x2="524.29" y2="501.45" stroke="#5a5a5a" stroke-width="0.55"/>
<line x1="547.54" y1="297.90" x2="547.54" y2="302.20" stroke="#5a5a5a" stroke-width="0.55"/>
<line x1="547.54" y1="505.75" x2="547.54" y2="501.45" stroke="#5a5a5a" stroke-width="0.55"/>
<line x1="565.58" y1="297.90" x2="565.58" y2="302.20" stroke="#5a5a5a" stroke-width="0.55"/>
<line x1="565.58" y1="505.75" x2="565.58" y2="501.45" stroke="#5a5a5a" stroke-width="0.55"/>
<line x1="580.31" y1="297.90" x2="580.31" y2="302.20" stroke="#5a5a5a" stroke-width="0.55"/>
<line x1="580.31" y1="505.75" x2="580.31" y2="501.45" stroke="#5a5a5a" stroke-width="0.55"/>
<line x1="592.77" y1="297.90" x2="592.77" y2="302.20" stroke="#5a5a5a" stroke-width="0.55"/>
<line x1="592.77" y1="505.75" x2="592.77" y2="501.45" stroke="#5a5a5a" stroke-width="0.55"/>
<line x1="603.57" y1="297.90" x2="603.57" y2="302.20" stroke="#5a5a5a" stroke-width="0.55"/>
<line x1="603.57" y1="505.75" x2="603.57" y2="501.45" stroke="#5a5a5a" stroke-width="0.55"/>
<line x1="613.08" y1="297.90" x2="613.08" y2="302.20" stroke="#5a5a5a" stroke-width="0.55"/>
<line x1="613.08" y1="505.75" x2="613.08" y2="501.45" stroke="#5a5a5a" stroke-width="0.55"/>
<line x1="621.60" y1="297.90" x2="621.60" y2="304.30" stroke="#5a5a5a" stroke-width="0.55"/>
<line x1="621.60" y1="505.75" x2="621.60" y2="499.35" stroke="#5a5a5a" stroke-width="0.55"/>
<line x1="415.00" y1="502.96" x2="419.30" y2="502.96" stroke="#5a5a5a" stroke-width="0.55"/>
<line x1="684.20" y1="502.96" x2="679.90" y2="502.96" stroke="#5a5a5a" stroke-width="0.55"/>
<line x1="415.00" y1="496.80" x2="419.30" y2="496.80" stroke="#5a5a5a" stroke-width="0.55"/>
<line x1="684.20" y1="496.80" x2="679.90" y2="496.80" stroke="#5a5a5a" stroke-width="0.55"/>
<line x1="415.00" y1="491.76" x2="419.30" y2="491.76" stroke="#5a5a5a" stroke-width="0.55"/>
<line x1="684.20" y1="491.76" x2="679.90" y2="491.76" stroke="#5a5a5a" stroke-width="0.55"/>
<line x1="415.00" y1="487.50" x2="419.30" y2="487.50" stroke="#5a5a5a" stroke-width="0.55"/>
<line x1="684.20" y1="487.50" x2="679.90" y2="487.50" stroke="#5a5a5a" stroke-width="0.55"/>
<line x1="415.00" y1="483.81" x2="419.30" y2="483.81" stroke="#5a5a5a" stroke-width="0.55"/>
<line x1="684.20" y1="483.81" x2="679.90" y2="483.81" stroke="#5a5a5a" stroke-width="0.55"/>
<line x1="415.00" y1="480.56" x2="419.30" y2="480.56" stroke="#5a5a5a" stroke-width="0.55"/>
<line x1="684.20" y1="480.56" x2="679.90" y2="480.56" stroke="#5a5a5a" stroke-width="0.55"/>
<line x1="415.00" y1="477.65" x2="421.40" y2="477.65" stroke="#5a5a5a" stroke-width="0.55"/>
<line x1="684.20" y1="477.65" x2="677.80" y2="477.65" stroke="#5a5a5a" stroke-width="0.55"/>
<line x1="415.00" y1="458.50" x2="419.30" y2="458.50" stroke="#5a5a5a" stroke-width="0.55"/>
<line x1="684.20" y1="458.50" x2="679.90" y2="458.50" stroke="#5a5a5a" stroke-width="0.55"/>
<line x1="415.00" y1="447.31" x2="419.30" y2="447.31" stroke="#5a5a5a" stroke-width="0.55"/>
<line x1="684.20" y1="447.31" x2="679.90" y2="447.31" stroke="#5a5a5a" stroke-width="0.55"/>
<line x1="415.00" y1="439.36" x2="419.30" y2="439.36" stroke="#5a5a5a" stroke-width="0.55"/>
<line x1="684.20" y1="439.36" x2="679.90" y2="439.36" stroke="#5a5a5a" stroke-width="0.55"/>
<line x1="415.00" y1="433.20" x2="419.30" y2="433.20" stroke="#5a5a5a" stroke-width="0.55"/>
<line x1="684.20" y1="433.20" x2="679.90" y2="433.20" stroke="#5a5a5a" stroke-width="0.55"/>
<line x1="415.00" y1="428.16" x2="419.30" y2="428.16" stroke="#5a5a5a" stroke-width="0.55"/>
<line x1="684.20" y1="428.16" x2="679.90" y2="428.16" stroke="#5a5a5a" stroke-width="0.55"/>
<line x1="415.00" y1="423.90" x2="419.30" y2="423.90" stroke="#5a5a5a" stroke-width="0.55"/>
<line x1="684.20" y1="423.90" x2="679.90" y2="423.90" stroke="#5a5a5a" stroke-width="0.55"/>
<line x1="415.00" y1="420.21" x2="419.30" y2="420.21" stroke="#5a5a5a" stroke-width="0.55"/>
<line x1="684.20" y1="420.21" x2="679.90" y2="420.21" stroke="#5a5a5a" stroke-width="0.55"/>
<line x1="415.00" y1="416.96" x2="419.30" y2="416.96" stroke="#5a5a5a" stroke-width="0.55"/>
<line x1="684.20" y1="416.96" x2="679.90" y2="416.96" stroke="#5a5a5a" stroke-width="0.55"/>
<line x1="415.00" y1="414.05" x2="421.40" y2="414.05" stroke="#5a5a5a" stroke-width="0.55"/>
<line x1="684.20" y1="414.05" x2="677.80" y2="414.05" stroke="#5a5a5a" stroke-width="0.55"/>
<line x1="415.00" y1="394.90" x2="419.30" y2="394.90" stroke="#5a5a5a" stroke-width="0.55"/>
<line x1="684.20" y1="394.90" x2="679.90" y2="394.90" stroke="#5a5a5a" stroke-width="0.55"/>
<line x1="415.00" y1="383.71" x2="419.30" y2="383.71" stroke="#5a5a5a" stroke-width="0.55"/>
<line x1="684.20" y1="383.71" x2="679.90" y2="383.71" stroke="#5a5a5a" stroke-width="0.55"/>
<line x1="415.00" y1="375.76" x2="419.30" y2="375.76" stroke="#5a5a5a" stroke-width="0.55"/>
<line x1="684.20" y1="375.76" x2="679.90" y2="375.76" stroke="#5a5a5a" stroke-width="0.55"/>
<line x1="415.00" y1="369.60" x2="419.30" y2="369.60" stroke="#5a5a5a" stroke-width="0.55"/>
<line x1="684.20" y1="369.60" x2="679.90" y2="369.60" stroke="#5a5a5a" stroke-width="0.55"/>
<line x1="415.00" y1="364.56" x2="419.30" y2="364.56" stroke="#5a5a5a" stroke-width="0.55"/>
<line x1="684.20" y1="364.56" x2="679.90" y2="364.56" stroke="#5a5a5a" stroke-width="0.55"/>
<line x1="415.00" y1="360.30" x2="419.30" y2="360.30" stroke="#5a5a5a" stroke-width="0.55"/>
<line x1="684.20" y1="360.30" x2="679.90" y2="360.30" stroke="#5a5a5a" stroke-width="0.55"/>
<line x1="415.00" y1="356.61" x2="419.30" y2="356.61" stroke="#5a5a5a" stroke-width="0.55"/>
<line x1="684.20" y1="356.61" x2="679.90" y2="356.61" stroke="#5a5a5a" stroke-width="0.55"/>
<line x1="415.00" y1="353.36" x2="419.30" y2="353.36" stroke="#5a5a5a" stroke-width="0.55"/>
<line x1="684.20" y1="353.36" x2="679.90" y2="353.36" stroke="#5a5a5a" stroke-width="0.55"/>
<line x1="415.00" y1="350.45" x2="421.40" y2="350.45" stroke="#5a5a5a" stroke-width="0.55"/>
<line x1="684.20" y1="350.45" x2="677.80" y2="350.45" stroke="#5a5a5a" stroke-width="0.55"/>
<line x1="415.00" y1="331.30" x2="419.30" y2="331.30" stroke="#5a5a5a" stroke-width="0.55"/>
<line x1="684.20" y1="331.30" x2="679.90" y2="331.30" stroke="#5a5a5a" stroke-width="0.55"/>
<line x1="415.00" y1="320.11" x2="419.30" y2="320.11" stroke="#5a5a5a" stroke-width="0.55"/>
<line x1="684.20" y1="320.11" x2="679.90" y2="320.11" stroke="#5a5a5a" stroke-width="0.55"/>
<line x1="415.00" y1="312.16" x2="419.30" y2="312.16" stroke="#5a5a5a" stroke-width="0.55"/>
<line x1="684.20" y1="312.16" x2="679.90" y2="312.16" stroke="#5a5a5a" stroke-width="0.55"/>
<line x1="415.00" y1="306.00" x2="419.30" y2="306.00" stroke="#5a5a5a" stroke-width="0.55"/>
<line x1="684.20" y1="306.00" x2="679.90" y2="306.00" stroke="#5a5a5a" stroke-width="0.55"/>
<line x1="415.00" y1="300.96" x2="419.30" y2="300.96" stroke="#5a5a5a" stroke-width="0.55"/>
<line x1="684.20" y1="300.96" x2="679.90" y2="300.96" stroke="#5a5a5a" stroke-width="0.55"/>
<rect x="415.00" y="297.90" width="269.20" height="207.85" fill="none" stroke="#231f20" stroke-width="1.75"/>
<line x1="620.95" y1="318.44" x2="620.95" y2="325.44" stroke="#adadb3" stroke-width="0.9"/>
<line x1="523.90" y1="359.03" x2="523.90" y2="366.03" stroke="#adadb3" stroke-width="0.9"/>
<rect x="523.05" y="358.08" width="1.7" height="1.9" fill="#2a4ba0"/>
<line x1="620.95" y1="456.26" x2="620.95" y2="449.26" stroke="#adadb3" stroke-width="0.9"/>
<line x1="523.90" y1="460.63" x2="523.90" y2="467.63" stroke="#adadb3" stroke-width="0.9"/>
<rect x="523.05" y="459.68" width="1.7" height="1.9" fill="#2a4ba0"/>
<line x1="645.20" y1="377.80" x2="645.20" y2="385.30" stroke="#adadb3" stroke-width="0.9"/>
<rect x="644.30" y="376.80" width="1.8" height="2" fill="#2a4ba0"/>
<line x1="442.90" y1="412.90" x2="442.90" y2="420.10" stroke="#adadb3" stroke-width="0.9"/>
<rect x="442.00" y="419.10" width="1.8" height="2" fill="#2a4ba0"/>
<polyline points="437.42,350.70 493.45,356.10 549.48,361.50 605.51,366.70 661.54,372.40" fill="none" stroke="#2a4ba0" stroke-width="2.05" stroke-dasharray="6.55 6.27"/>
<circle cx="437.42" cy="350.70" r="4.27" fill="none" stroke="#2a4ba0" stroke-width="2.05"/>
<circle cx="493.45" cy="356.10" r="4.27" fill="none" stroke="#2a4ba0" stroke-width="2.05"/>
<circle cx="549.48" cy="361.50" r="4.27" fill="none" stroke="#2a4ba0" stroke-width="2.05"/>
<circle cx="605.51" cy="366.70" r="4.27" fill="none" stroke="#2a4ba0" stroke-width="2.05"/>
<circle cx="661.54" cy="372.40" r="4.27" fill="none" stroke="#2a4ba0" stroke-width="2.05"/>
<polyline points="437.42,315.20 493.45,316.00 549.48,316.80 605.51,318.00 661.54,319.60" fill="none" stroke="#ec0b8d" stroke-width="2.05"/>
<path d="M433.12 315.20H441.72M437.42 310.90V319.50" stroke="#ec0b8d" stroke-width="2.05" fill="none"/>
<path d="M489.15 316.00H497.75M493.45 311.70V320.30" stroke="#ec0b8d" stroke-width="2.05" fill="none"/>
<path d="M545.18 316.80H553.78M549.48 312.50V321.10" stroke="#ec0b8d" stroke-width="2.05" fill="none"/>
<path d="M601.21 318.00H609.81M605.51 313.70V322.30" stroke="#ec0b8d" stroke-width="2.05" fill="none"/>
<path d="M657.24 319.60H665.84M661.54 315.30V323.90" stroke="#ec0b8d" stroke-width="2.05" fill="none"/>
<polyline points="437.42,442.90 493.45,455.20 549.48,465.20 605.51,474.00 661.54,488.20" fill="none" stroke="#2a4ba0" stroke-width="2.05" stroke-dasharray="6.55 6.27"/>
<circle cx="437.42" cy="442.90" r="4.27" fill="none" stroke="#2a4ba0" stroke-width="2.05"/>
<circle cx="493.45" cy="455.20" r="4.27" fill="none" stroke="#2a4ba0" stroke-width="2.05"/>
<circle cx="549.48" cy="465.20" r="4.27" fill="none" stroke="#2a4ba0" stroke-width="2.05"/>
<circle cx="605.51" cy="474.00" r="4.27" fill="none" stroke="#2a4ba0" stroke-width="2.05"/>
<circle cx="661.54" cy="488.20" r="4.27" fill="none" stroke="#2a4ba0" stroke-width="2.05"/>
<polyline points="437.42,427.30 493.45,435.10 549.48,443.70 605.51,453.70 661.54,463.00" fill="none" stroke="#ec0b8d" stroke-width="2.05"/>
<path d="M433.12 427.30H441.72M437.42 423.00V431.60" stroke="#ec0b8d" stroke-width="2.05" fill="none"/>
<path d="M489.15 435.10H497.75M493.45 430.80V439.40" stroke="#ec0b8d" stroke-width="2.05" fill="none"/>
<path d="M545.18 443.70H553.78M549.48 439.40V448.00" stroke="#ec0b8d" stroke-width="2.05" fill="none"/>
<path d="M601.21 453.70H609.81M605.51 449.40V458.00" stroke="#ec0b8d" stroke-width="2.05" fill="none"/>
<path d="M657.24 463.00H665.84M661.54 458.70V467.30" stroke="#ec0b8d" stroke-width="2.05" fill="none"/>
</g>
<g id="legend">
<rect x="217.4" y="602.55" width="246.7" height="33.35" fill="#fff" stroke="#231f20" stroke-width="1"/>
<line x1="224.55" y1="619.2" x2="260.35" y2="619.2" stroke="#2a4ba0" stroke-width="2.05" stroke-dasharray="6.55 6.27"/>
<circle cx="242.65" cy="619.2" r="4.27" fill="none" stroke="#2a4ba0" stroke-width="2.05"/>
<path d="M343.9 619.2H379.9M361.9 614.9V623.5" stroke="#ec0b8d" stroke-width="2.05" fill="none"/>
</g>
<g id="labels">
<text fill="#2e2c2d"><tspan x="294.52" y="116.90" font-size="15.6" textLength="9.08" lengthAdjust="spacingAndGlyphs" font-style="italic">α</tspan><tspan x="310.03" y="118.10" font-size="15.6" textLength="12.82" lengthAdjust="spacingAndGlyphs">=</tspan><tspan x="328.45" y="116.90" font-size="14.4" textLength="7.04" lengthAdjust="spacingAndGlyphs">1</tspan></text>
<text fill="#2e2c2d"><tspan x="92.42" y="129.40" font-size="15.6" textLength="9.08" lengthAdjust="spacingAndGlyphs" font-style="italic">α</tspan><tspan x="107.93" y="130.60" font-size="15.6" textLength="12.82" lengthAdjust="spacingAndGlyphs">=</tspan><tspan x="126.10" y="129.40" font-size="14.4" textLength="8.15" lengthAdjust="spacingAndGlyphs">2</tspan></text>
<text fill="#2e2c2d"><tspan x="35.56" y="56.75" font-size="17.5" textLength="18.75" lengthAdjust="spacingAndGlyphs">10</tspan><tspan x="56.34" y="51.65" font-size="12.7" textLength="10.21" lengthAdjust="spacingAndGlyphs">−</tspan><tspan x="69.65" y="49.85" font-size="12.7" textLength="6.48" lengthAdjust="spacingAndGlyphs">1</tspan></text>
<text fill="#2e2c2d"><tspan x="35.56" y="102.62" font-size="17.5" textLength="18.75" lengthAdjust="spacingAndGlyphs">10</tspan><tspan x="56.34" y="97.52" font-size="12.7" textLength="10.21" lengthAdjust="spacingAndGlyphs">−</tspan><tspan x="69.05" y="95.72" font-size="12.7" textLength="7.53" lengthAdjust="spacingAndGlyphs">2</tspan></text>
<text fill="#2e2c2d"><tspan x="35.56" y="148.49" font-size="17.5" textLength="18.75" lengthAdjust="spacingAndGlyphs">10</tspan><tspan x="56.34" y="143.39" font-size="12.7" textLength="10.21" lengthAdjust="spacingAndGlyphs">−</tspan><tspan x="69.00" y="141.59" font-size="12.7" textLength="7.26" lengthAdjust="spacingAndGlyphs">3</tspan></text>
<text fill="#2e2c2d"><tspan x="35.56" y="194.36" font-size="17.5" textLength="18.75" lengthAdjust="spacingAndGlyphs">10</tspan><tspan x="56.34" y="189.26" font-size="12.7" textLength="10.21" lengthAdjust="spacingAndGlyphs">−</tspan><tspan x="69.46" y="187.46" font-size="12.7" textLength="6.49" lengthAdjust="spacingAndGlyphs">4</tspan></text>
<text fill="#2e2c2d"><tspan x="35.56" y="240.23" font-size="17.5" textLength="18.75" lengthAdjust="spacingAndGlyphs">10</tspan><tspan x="56.34" y="235.13" font-size="12.7" textLength="10.21" lengthAdjust="spacingAndGlyphs">−</tspan><tspan x="68.83" y="233.33" font-size="12.7" textLength="7.44" lengthAdjust="spacingAndGlyphs">5</tspan></text>
<text fill="#2e2c2d"><tspan x="624.52" y="125.80" font-size="15.6" textLength="9.08" lengthAdjust="spacingAndGlyphs" font-style="italic">α</tspan><tspan x="640.03" y="127.00" font-size="15.6" textLength="12.82" lengthAdjust="spacingAndGlyphs">=</tspan><tspan x="658.45" y="125.80" font-size="14.4" textLength="7.04" lengthAdjust="spacingAndGlyphs">1</tspan></text>
<text fill="#2e2c2d"><tspan x="422.42" y="138.00" font-size="15.6" textLength="9.08" lengthAdjust="spacingAndGlyphs" font-style="italic">α</tspan><tspan x="437.93" y="139.20" font-size="15.6" textLength="12.82" lengthAdjust="spacingAndGlyphs">=</tspan><tspan x="456.10" y="138.00" font-size="14.4" textLength="8.15" lengthAdjust="spacingAndGlyphs">2</tspan></text>
<text fill="#2e2c2d"><tspan x="365.56" y="76.20" font-size="17.5" textLength="18.75" lengthAdjust="spacingAndGlyphs">10</tspan><tspan x="386.34" y="71.10" font-size="12.7" textLength="10.21" lengthAdjust="spacingAndGlyphs">−</tspan><tspan x="399.65" y="69.30" font-size="12.7" textLength="6.48" lengthAdjust="spacingAndGlyphs">1</tspan></text>
<text fill="#2e2c2d"><tspan x="365.56" y="140.15" font-size="17.5" textLength="18.75" lengthAdjust="spacingAndGlyphs">10</tspan><tspan x="386.34" y="135.05" font-size="12.7" textLength="10.21" lengthAdjust="spacingAndGlyphs">−</tspan><tspan x="399.05" y="133.25" font-size="12.7" textLength="7.53" lengthAdjust="spacingAndGlyphs">2</tspan></text>
<text fill="#2e2c2d"><tspan x="365.56" y="204.10" font-size="17.5" textLength="18.75" lengthAdjust="spacingAndGlyphs">10</tspan><tspan x="386.34" y="199.00" font-size="12.7" textLength="10.21" lengthAdjust="spacingAndGlyphs">−</tspan><tspan x="399.00" y="197.20" font-size="12.7" textLength="7.26" lengthAdjust="spacingAndGlyphs">3</tspan></text>
<text fill="#2e2c2d"><tspan x="294.52" y="399.40" font-size="15.6" textLength="9.08" lengthAdjust="spacingAndGlyphs" font-style="italic">α</tspan><tspan x="310.03" y="400.60" font-size="15.6" textLength="12.82" lengthAdjust="spacingAndGlyphs">=</tspan><tspan x="328.45" y="399.40" font-size="14.4" textLength="7.04" lengthAdjust="spacingAndGlyphs">1</tspan></text>
<text fill="#2e2c2d"><tspan x="92.42" y="407.40" font-size="15.6" textLength="9.08" lengthAdjust="spacingAndGlyphs" font-style="italic">α</tspan><tspan x="107.93" y="408.60" font-size="15.6" textLength="12.82" lengthAdjust="spacingAndGlyphs">=</tspan><tspan x="126.10" y="407.40" font-size="14.4" textLength="8.15" lengthAdjust="spacingAndGlyphs">2</tspan></text>
<text fill="#2e2c2d"><tspan x="49.26" y="339.75" font-size="17.5" textLength="18.75" lengthAdjust="spacingAndGlyphs">10</tspan><tspan x="69.15" y="333.35" font-size="12.7" textLength="7.21" lengthAdjust="spacingAndGlyphs">0</tspan></text>
<text fill="#2e2c2d"><tspan x="35.56" y="406.12" font-size="17.5" textLength="18.75" lengthAdjust="spacingAndGlyphs">10</tspan><tspan x="56.34" y="401.02" font-size="12.7" textLength="10.21" lengthAdjust="spacingAndGlyphs">−</tspan><tspan x="69.65" y="399.22" font-size="12.7" textLength="6.48" lengthAdjust="spacingAndGlyphs">1</tspan></text>
<text fill="#2e2c2d"><tspan x="35.56" y="471.59" font-size="17.5" textLength="18.75" lengthAdjust="spacingAndGlyphs">10</tspan><tspan x="56.34" y="466.49" font-size="12.7" textLength="10.21" lengthAdjust="spacingAndGlyphs">−</tspan><tspan x="69.05" y="464.69" font-size="12.7" textLength="7.53" lengthAdjust="spacingAndGlyphs">2</tspan></text>
<text fill="#2e2c2d"><tspan x="90.84" y="527.00" font-size="17.5" textLength="18.98" lengthAdjust="spacingAndGlyphs">10</tspan><tspan x="111.30" y="520.50" font-size="12.7" textLength="7.26" lengthAdjust="spacingAndGlyphs">3</tspan></text>
<text fill="#2e2c2d"><tspan x="276.94" y="527.00" font-size="17.5" textLength="18.98" lengthAdjust="spacingAndGlyphs">10</tspan><tspan x="297.86" y="520.50" font-size="12.7" textLength="6.49" lengthAdjust="spacingAndGlyphs">4</tspan></text>
<text fill="#2e2c2d"><tspan x="213.83" y="552.00" font-size="16.8" textLength="11.76" lengthAdjust="spacingAndGlyphs" font-style="italic">n</tspan></text>
<text fill="#2e2c2d"><tspan x="624.52" y="402.00" font-size="15.6" textLength="9.08" lengthAdjust="spacingAndGlyphs" font-style="italic">α</tspan><tspan x="640.03" y="403.20" font-size="15.6" textLength="12.82" lengthAdjust="spacingAndGlyphs">=</tspan><tspan x="658.45" y="402.00" font-size="14.4" textLength="7.04" lengthAdjust="spacingAndGlyphs">1</tspan></text>
<text fill="#2e2c2d"><tspan x="422.42" y="406.00" font-size="15.6" textLength="9.08" lengthAdjust="spacingAndGlyphs" font-style="italic">α</tspan><tspan x="437.93" y="407.20" font-size="15.6" textLength="12.82" lengthAdjust="spacingAndGlyphs">=</tspan><tspan x="456.10" y="406.00" font-size="14.4" textLength="8.15" lengthAdjust="spacingAndGlyphs">2</tspan></text>
<text fill="#2e2c2d"><tspan x="379.26" y="357.25" font-size="17.5" textLength="18.75" lengthAdjust="spacingAndGlyphs">10</tspan><tspan x="399.15" y="350.85" font-size="12.7" textLength="7.21" lengthAdjust="spacingAndGlyphs">0</tspan></text>
<text fill="#2e2c2d"><tspan x="365.56" y="421.75" font-size="17.5" textLength="18.75" lengthAdjust="spacingAndGlyphs">10</tspan><tspan x="386.34" y="416.65" font-size="12.7" textLength="10.21" lengthAdjust="spacingAndGlyphs">−</tspan><tspan x="399.65" y="414.85" font-size="12.7" textLength="6.48" lengthAdjust="spacingAndGlyphs">1</tspan></text>
<text fill="#2e2c2d"><tspan x="365.56" y="485.35" font-size="17.5" textLength="18.75" lengthAdjust="spacingAndGlyphs">10</tspan><tspan x="386.34" y="480.25" font-size="12.7" textLength="10.21" lengthAdjust="spacingAndGlyphs">−</tspan><tspan x="399.05" y="478.45" font-size="12.7" textLength="7.53" lengthAdjust="spacingAndGlyphs">2</tspan></text>
<text fill="#2e2c2d"><tspan x="420.84" y="527.00" font-size="17.5" textLength="18.98" lengthAdjust="spacingAndGlyphs">10</tspan><tspan x="441.30" y="520.50" font-size="12.7" textLength="7.26" lengthAdjust="spacingAndGlyphs">3</tspan></text>
<text fill="#2e2c2d"><tspan x="606.94" y="527.00" font-size="17.5" textLength="18.98" lengthAdjust="spacingAndGlyphs">10</tspan><tspan x="627.86" y="520.50" font-size="12.7" textLength="6.49" lengthAdjust="spacingAndGlyphs">4</tspan></text>
<text fill="#2e2c2d"><tspan x="543.83" y="552.00" font-size="16.8" textLength="11.76" lengthAdjust="spacingAndGlyphs" font-style="italic">n</tspan></text>
<text fill="#2e2c2d"><tspan x="153.91" y="16.40" font-size="16.6" textLength="8.95" lengthAdjust="spacingAndGlyphs" font-style="italic">γ</tspan><tspan x="165.97" y="18.90" font-size="12.6" textLength="4.34" lengthAdjust="spacingAndGlyphs" font-style="italic">j</tspan><tspan x="178.29" y="17.80" font-size="16.6" textLength="14.48" lengthAdjust="spacingAndGlyphs">=</tspan><tspan x="200.81" y="16.60" font-size="18.0" textLength="5.71" lengthAdjust="spacingAndGlyphs" font-style="italic">j</tspan><tspan x="209.44" y="11.50" font-size="12.4" textLength="10.21" lengthAdjust="spacingAndGlyphs">−</tspan><tspan x="221.56" y="10.70" font-size="12.4" textLength="7.62" lengthAdjust="spacingAndGlyphs">3</tspan><tspan x="230.95" y="10.70" font-size="11.9" textLength="8.38" lengthAdjust="spacingAndGlyphs" font-style="italic">α</tspan><tspan x="243.95" y="21.00" font-size="25.8" textLength="7.14" lengthAdjust="spacingAndGlyphs">/</tspan><tspan x="253.26" y="16.30" font-size="16.2" textLength="9.25" lengthAdjust="spacingAndGlyphs" font-style="italic">π</tspan><tspan x="264.66" y="10.70" font-size="12.4" textLength="7.41" lengthAdjust="spacingAndGlyphs">2</tspan><tspan x="274.06" y="10.70" font-size="11.9" textLength="8.28" lengthAdjust="spacingAndGlyphs" font-style="italic">α</tspan></text>
<text fill="#2e2c2d"><tspan x="489.47" y="16.40" font-size="16.6" textLength="8.71" lengthAdjust="spacingAndGlyphs" font-style="italic">γ</tspan><tspan x="501.52" y="18.90" font-size="12.6" textLength="4.61" lengthAdjust="spacingAndGlyphs" font-style="italic">j</tspan><tspan x="513.88" y="17.80" font-size="16.6" textLength="14.72" lengthAdjust="spacingAndGlyphs">=</tspan><tspan x="536.56" y="16.60" font-size="18.0" textLength="6.09" lengthAdjust="spacingAndGlyphs" font-style="italic">j</tspan><tspan x="544.98" y="11.50" font-size="12.4" textLength="10.92" lengthAdjust="spacingAndGlyphs">−</tspan><tspan x="557.55" y="10.70" font-size="12.4" textLength="7.53" lengthAdjust="spacingAndGlyphs">2</tspan><tspan x="567.65" y="21.00" font-size="25.8" textLength="7.34" lengthAdjust="spacingAndGlyphs">/</tspan><tspan x="577.46" y="16.30" font-size="16.2" textLength="9.35" lengthAdjust="spacingAndGlyphs" font-style="italic">π</tspan><tspan x="588.64" y="10.70" font-size="12.4" textLength="7.65" lengthAdjust="spacingAndGlyphs">2</tspan><tspan x="598.32" y="10.70" font-size="11.9" textLength="8.02" lengthAdjust="spacingAndGlyphs" font-style="italic">α</tspan></text>
<text fill="#2e2c2d"><tspan x="147.61" y="285.40" font-size="16.6" textLength="9.05" lengthAdjust="spacingAndGlyphs" font-style="italic">γ</tspan><tspan x="159.90" y="287.90" font-size="12.6" textLength="4.30" lengthAdjust="spacingAndGlyphs" font-style="italic">j</tspan><tspan x="171.85" y="286.80" font-size="16.6" textLength="15.08" lengthAdjust="spacingAndGlyphs">=</tspan><tspan x="192.62" y="285.30" font-size="17.2" textLength="24.20" lengthAdjust="spacingAndGlyphs">0.9</tspan><tspan x="219.54" y="280.00" font-size="12.4" textLength="4.26" lengthAdjust="spacingAndGlyphs" font-style="italic">j</tspan><tspan x="226.54" y="280.50" font-size="12.4" textLength="11.40" lengthAdjust="spacingAndGlyphs">−</tspan><tspan x="240.15" y="279.70" font-size="12.4" textLength="6.48" lengthAdjust="spacingAndGlyphs">1</tspan><tspan x="250.05" y="290.00" font-size="25.8" textLength="7.14" lengthAdjust="spacingAndGlyphs">/</tspan><tspan x="259.86" y="285.30" font-size="16.2" textLength="8.77" lengthAdjust="spacingAndGlyphs" font-style="italic">π</tspan><tspan x="270.74" y="279.70" font-size="12.4" textLength="7.65" lengthAdjust="spacingAndGlyphs">2</tspan><tspan x="279.97" y="279.70" font-size="11.9" textLength="8.08" lengthAdjust="spacingAndGlyphs" font-style="italic">α</tspan></text>
<text fill="#2e2c2d"><tspan x="500.85" y="285.40" font-size="16.6" textLength="9.10" lengthAdjust="spacingAndGlyphs" font-style="italic">γ</tspan><tspan x="513.14" y="287.90" font-size="12.6" textLength="4.26" lengthAdjust="spacingAndGlyphs" font-style="italic">j</tspan><tspan x="524.85" y="286.80" font-size="16.6" textLength="15.02" lengthAdjust="spacingAndGlyphs">=</tspan><tspan x="545.62" y="285.30" font-size="17.2" textLength="8.73" lengthAdjust="spacingAndGlyphs">1</tspan><tspan x="556.45" y="290.00" font-size="25.8" textLength="7.05" lengthAdjust="spacingAndGlyphs">/</tspan><tspan x="566.16" y="285.30" font-size="16.2" textLength="8.82" lengthAdjust="spacingAndGlyphs" font-style="italic">π</tspan><tspan x="577.27" y="279.70" font-size="12.4" textLength="7.28" lengthAdjust="spacingAndGlyphs">2</tspan><tspan x="586.45" y="279.70" font-size="11.9" textLength="8.33" lengthAdjust="spacingAndGlyphs" font-style="italic">α</tspan></text>
<text fill="#2e2c2d"><tspan x="265.59" y="624.70" font-size="14.0" textLength="13.09" lengthAdjust="spacingAndGlyphs">𝒮</tspan><tspan x="278.43" y="617.50" font-size="9.0" textLength="6.74" lengthAdjust="spacingAndGlyphs">∗</tspan><tspan x="278.47" y="628.85" font-size="9.6" textLength="6.82" lengthAdjust="spacingAndGlyphs" font-style="italic">n</tspan><tspan x="288.16" y="625.30" font-size="18.6" textLength="4.90" lengthAdjust="spacingAndGlyphs">(</tspan><tspan x="295.41" y="624.70" font-size="12.8" textLength="7.32" lengthAdjust="spacingAndGlyphs" font-style="italic" font-weight="bold">z</tspan><tspan x="304.91" y="618.10" font-size="10.6" textLength="9.06" lengthAdjust="spacingAndGlyphs">𝒮</tspan><tspan x="303.22" y="629.20" font-size="8.5" textLength="21.17" lengthAdjust="spacingAndGlyphs">cbc</tspan><tspan x="326.08" y="625.30" font-size="18.6" textLength="5.19" lengthAdjust="spacingAndGlyphs">)</tspan></text>
<text fill="#2e2c2d"><tspan x="384.75" y="624.70" font-size="14.0" textLength="14.79" lengthAdjust="spacingAndGlyphs">𝒫</tspan><tspan x="399.69" y="617.50" font-size="9.0" textLength="6.10" lengthAdjust="spacingAndGlyphs">∗</tspan><tspan x="398.85" y="628.85" font-size="9.6" textLength="7.18" lengthAdjust="spacingAndGlyphs" font-style="italic">n</tspan><tspan x="409.28" y="625.30" font-size="18.6" textLength="4.78" lengthAdjust="spacingAndGlyphs">(</tspan><tspan x="416.32" y="624.70" font-size="12.8" textLength="7.41" lengthAdjust="spacingAndGlyphs" font-style="italic" font-weight="bold">z</tspan><tspan x="424.78" y="618.10" font-size="10.6" textLength="11.34" lengthAdjust="spacingAndGlyphs">𝒫</tspan><tspan x="424.32" y="629.20" font-size="8.5" textLength="21.07" lengthAdjust="spacingAndGlyphs">cbc</tspan><tspan x="447.29" y="625.30" font-size="18.6" textLength="5.12" lengthAdjust="spacingAndGlyphs">)</tspan></text>
<text transform="scale(1.1 1)" font-size="14.5" fill="#ec0b8d"><tspan font-size="19.5" x="240.76" y="46.18">−</tspan><tspan x="252.56 261.19 265.71 273.56 281.01" y="43.70">0.301</tspan></text>
<text transform="scale(1.1 1)" font-size="14.5" fill="#2a4ba0"><tspan font-size="19.5" x="152.49" y="93.28">−</tspan><tspan x="164.28 172.91 177.51 185.14 192.81" y="90.80">0.456</tspan></text>
<text transform="scale(1.1 1)" font-size="14.5" fill="#2a4ba0"><tspan font-size="19.5" x="152.49" y="157.58">−</tspan><tspan x="164.28 172.91 177.58 185.36 192.85" y="155.10">0.993</tspan></text>
<text transform="scale(1.1 1)" font-size="14.5" fill="#ec0b8d"><tspan font-size="19.5" x="240.76" y="234.38">−</tspan><tspan x="252.56 261.19 265.86 273.48 281.30" y="231.90">0.932</tspan></text>
<text transform="scale(1.1 1)" font-size="14.5" fill="#ec0b8d"><tspan font-size="19.5" x="540.76" y="46.28">−</tspan><tspan x="552.56 561.19 565.89 573.56 581.12" y="43.80">0.243</tspan></text>
<text transform="scale(1.1 1)" font-size="14.5" fill="#2a4ba0"><tspan font-size="19.5" x="452.49" y="105.28">−</tspan><tspan x="464.28 472.91 477.51 485.10 492.78" y="102.80">0.415</tspan></text>
<text transform="scale(1.1 1)" font-size="14.5" fill="#ec0b8d"><tspan font-size="19.5" x="540.76" y="186.28">−</tspan><tspan x="552.56 561.19 565.68 573.56 581.19" y="183.80">0.684</tspan></text>
<text transform="scale(1.1 1)" font-size="14.5" fill="#2a4ba0"><tspan font-size="19.5" x="452.49" y="211.38">−</tspan><tspan x="464.28 472.91 477.22 485.18 492.92" y="208.90">0.768</tspan></text>
<text transform="scale(1.1 1)" font-size="14.5" fill="#ec0b8d"><tspan font-size="19.5" x="240.76" y="349.28">−</tspan><tspan x="252.56 261.19 265.78 273.63 280.90" y="346.80">0.097</tspan></text>
<text transform="scale(1.1 1)" font-size="14.5" fill="#2a4ba0"><tspan font-size="19.5" x="152.49" y="383.38">−</tspan><tspan x="164.28 172.91 177.44 185.28 192.92" y="380.90">0.304</tspan></text>
<text transform="scale(1.1 1)" font-size="14.5" fill="#ec0b8d"><tspan font-size="19.5" x="240.76" y="444.88">−</tspan><tspan x="252.56 261.19 265.64 273.56 281.19" y="442.40">0.508</tspan></text>
<text transform="scale(1.1 1)" font-size="14.5" fill="#2a4ba0"><tspan font-size="19.5" x="160.76" y="487.38">−</tspan><tspan x="172.56 181.19 185.68" y="484.90">0.6</tspan></text>
<text transform="scale(1.1 1)" font-size="14.5" fill="#ec0b8d"><tspan font-size="19.5" x="540.76" y="343.88">−</tspan><tspan x="552.56 561.19 565.78 573.45 581.19" y="341.40">0.064</tspan></text>
<text transform="scale(1.1 1)" font-size="14.5" fill="#2a4ba0"><tspan font-size="19.5" x="452.49" y="383.38">−</tspan><tspan x="464.28 472.91 477.62 484.99 492.92" y="380.90">0.278</tspan></text>
<text transform="scale(1.1 1)" font-size="14.5" fill="#ec0b8d"><tspan font-size="19.5" x="540.76" y="441.98">−</tspan><tspan x="552.56 561.19 565.78 573.27 581.05" y="439.50">0.475</tspan></text>
<text transform="scale(1.1 1)" font-size="14.5" fill="#2a4ba0"><tspan font-size="19.5" x="452.49" y="487.38">−</tspan><tspan x="464.28 472.91 477.37 484.99 492.78" y="484.90">0.575</tspan></text>
<text transform="translate(15.25 222.55) rotate(-90)" font-size="17.2" fill="#2e2c2d"><tspan x="0.00" textLength="42.16" lengthAdjust="spacingAndGlyphs">values</tspan> <tspan x="47.76" textLength="15.20" lengthAdjust="spacingAndGlyphs">of</tspan> <tspan x="69.01" textLength="43.14" lengthAdjust="spacingAndGlyphs">upper</tspan> <tspan x="119.20" textLength="53.03" lengthAdjust="spacingAndGlyphs">bounds</tspan></text>
<text transform="translate(15.25 491.85) rotate(-90)" font-size="17.2" fill="#2e2c2d"><tspan x="0.00" textLength="42.16" lengthAdjust="spacingAndGlyphs">values</tspan> <tspan x="47.76" textLength="15.20" lengthAdjust="spacingAndGlyphs">of</tspan> <tspan x="69.01" textLength="43.14" lengthAdjust="spacingAndGlyphs">upper</tspan> <tspan x="119.20" textLength="53.03" lengthAdjust="spacingAndGlyphs">bounds</tspan></text>
</g>
</svg>
</body></html>
